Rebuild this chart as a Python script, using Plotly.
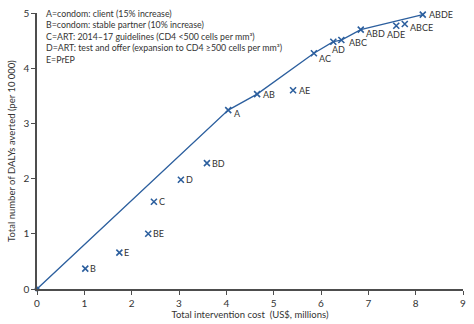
import plotly.graph_objects as go

labels = ["B", "E", "BE", "C", "D", "BD", "A", "AB", "AE", "AC", "AD", "ABC", "ABD", "ADE", "ABCE", "ABDE"]
cost = [1.02, 1.74, 2.35, 2.47, 3.04, 3.59, 4.04, 4.65, 5.41, 5.85, 6.26, 6.43, 6.84, 7.59, 7.77, 8.15]
dalys = [0.37, 0.66, 1.00, 1.58, 1.98, 2.28, 3.24, 3.53, 3.60, 4.27, 4.48, 4.51, 4.70, 4.77, 4.80, 4.97]

# label placement (style): anchor, x shift, y shift in px
label_anchor = ["left"] * 10 + ["center", "left", "left", "center", "left", "left"]
label_dx = [3, 3, 3, 3, 3, 3, 4, 4, 4, 3, 5, 6, 3, 0, 3, 4]
label_dy = [0, 0, 0, 0, 0, 0, -3, 0, 0, -5, -8, -2, -4, -9, -3, 0]

frontier = ["A", "AB", "AC", "AD", "ABC", "ABD", "ABDE"]
fx = [0] + [cost[labels.index(k)] for k in frontier]
fy = [0] + [dalys[labels.index(k)] for k in frontier]

legend_lines = [
    "A=condom: client (15% increase)",
    "B=condom: stable partner (10% increase)",
    "C=ART: 2014–17 guidelines (CD4 <500 cells per mm³)",
    "D=ART: test and offer (expansion to CD4 ≥500 cells per mm³)",
    "E=PrEP",
]

blue = "#2c5f9e"
axc = "#4d4d4d"
font = "Lato"

fig = go.Figure()
fig.add_trace(go.Scatter(x=fx, y=fy, mode="lines", line=dict(color=blue, width=1.3),
                         hoverinfo="skip", showlegend=False, cliponaxis=False))
fig.add_trace(go.Scatter(x=[0], y=[0], mode="markers", marker=dict(color=blue, size=5),
                         showlegend=False, cliponaxis=False))
fig.add_trace(go.Scatter(x=cost, y=dalys, mode="markers", text=labels,
                         marker=dict(symbol="x-thin", size=6, line=dict(color=blue, width=1.6)),
                         showlegend=False, cliponaxis=False))

for lab, cx, cy, anc, dx, dy in zip(labels, cost, dalys, label_anchor, label_dx, label_dy):
    fig.add_annotation(x=cx, y=cy, text=lab, showarrow=False, xanchor=anc, yanchor="middle",
                       xshift=dx, yshift=dy, font=dict(family=font, size=9, color="#333333"))

fig.add_annotation(xref="paper", yref="paper", x=0.017, y=1.025, xanchor="left", yanchor="top",
                   text="<br>".join(legend_lines), showarrow=False, align="left",
                   font=dict(family=font, size=8.8, color="#333333"))

fig.update_layout(
    width=474, height=324,
    margin=dict(l=37, r=11, t=13, b=35),
    paper_bgcolor="white", plot_bgcolor="white",
    font=dict(family=font, size=10, color="#333333"),
    xaxis=dict(range=[0, 9], dtick=1, showgrid=False, zeroline=False, showline=True,
               linecolor=axc, linewidth=1.5, ticks="outside", ticklen=4, tickcolor=axc,
               automargin=False,
               title=dict(text="Total intervention cost  (US$, millions)", standoff=0,
                          font=dict(size=9.5))),
    yaxis=dict(range=[0, 5], dtick=1, showgrid=False, zeroline=False, showline=True,
               linecolor=axc, linewidth=1.5, ticks="outside", ticklen=4, tickcolor=axc,
               automargin=False,
               title=dict(text="Total number of DALYs averted (per 10 000)", standoff=6,
                          font=dict(size=9.5))),
)

fig.write_html("out.html")
